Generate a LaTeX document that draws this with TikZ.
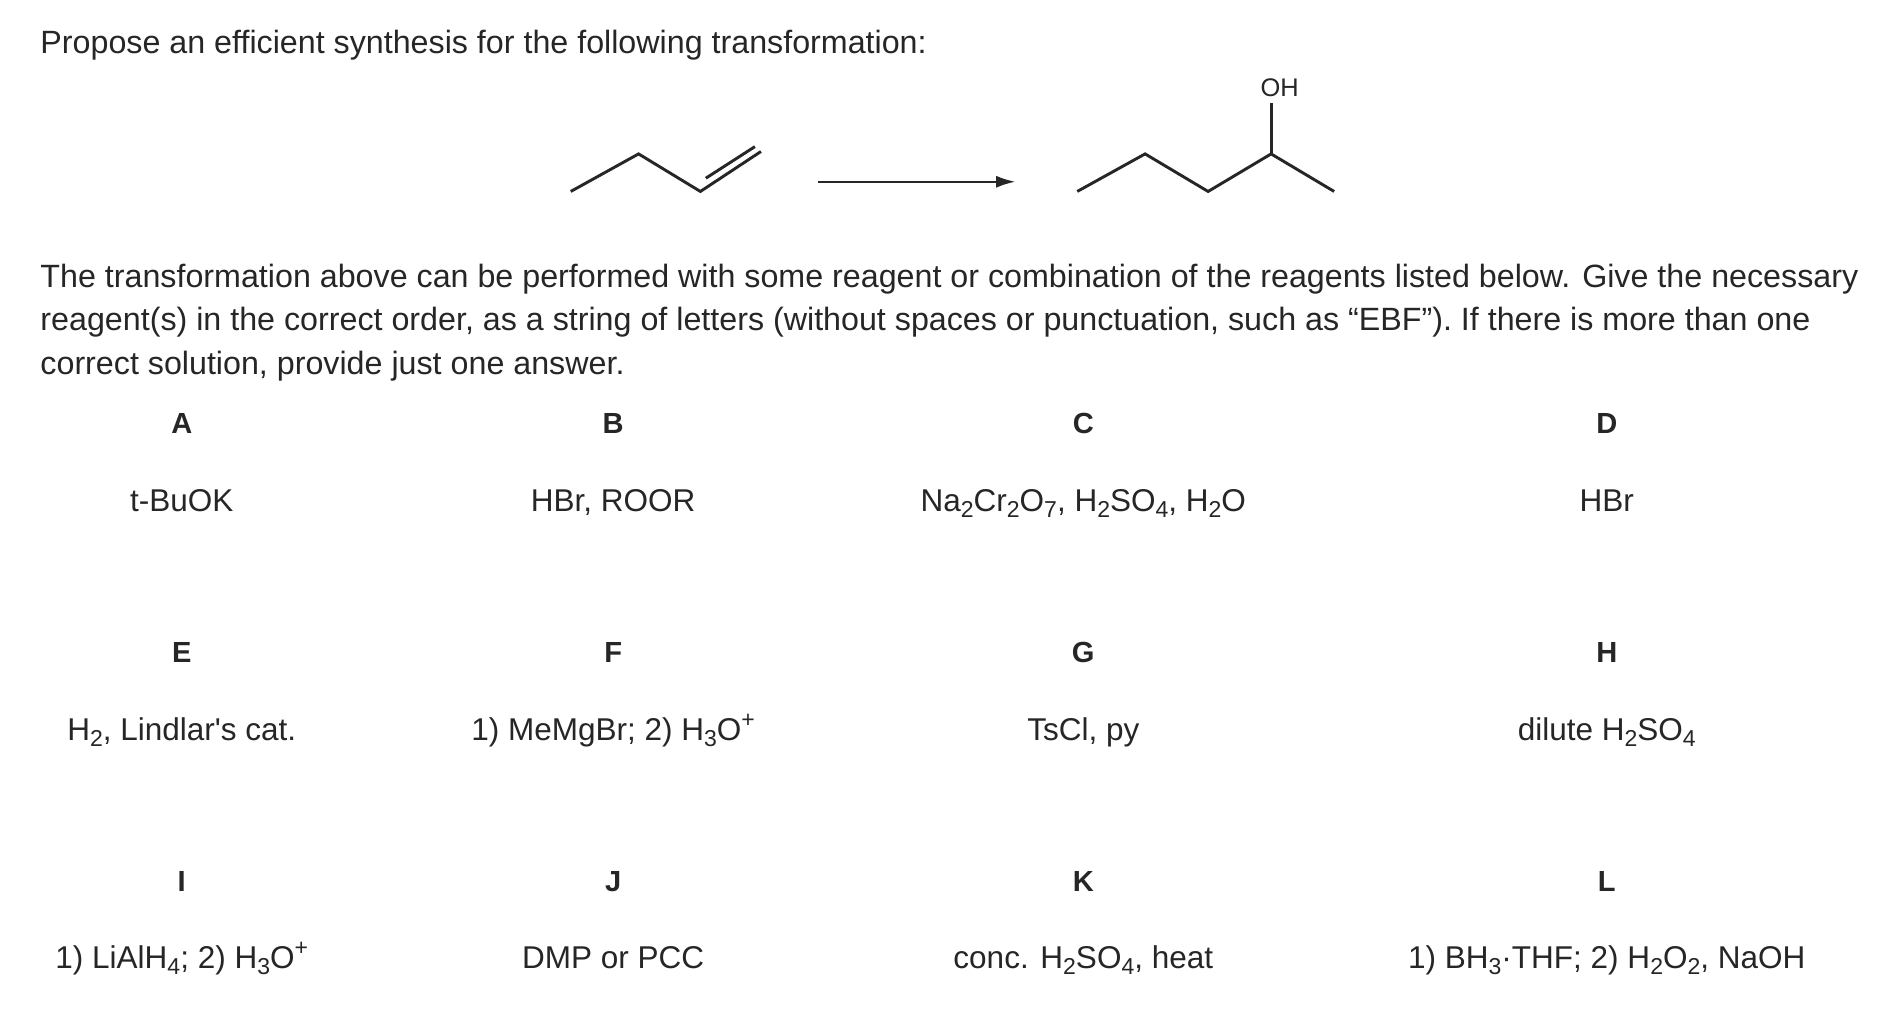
\documentclass[tikz,border=0pt]{standalone}
\usepackage{fontspec}
\setmainfont{Liberation Sans}
\newfontfamily\rawf{Liberation Sans}[Ligatures=ResetAll]
\usetikzlibrary{calc,arrows.meta}
\newcommand\sbs[1]{\raisebox{-0.35ex}{\fontsize{9.5}{9.5}\selectfont #1}}
\newcommand\sps[1]{\raisebox{0.75ex}{\fontsize{9.5}{9.5}\selectfont #1}}
\begin{document}
\begin{tikzpicture}[x=0.5pt,y=-0.5pt,
  txt/.style={anchor=base west,inner sep=0,font=\fontsize{13.3}{18}\selectfont,text=black!85},
  lett/.style={anchor=base,inner sep=0,font=\fontsize{12}{14}\selectfont\bfseries,text=black!85},
  reag/.style={anchor=base,inner sep=0,font=\fontsize{13}{14}\selectfont,text=black!85},
  bond/.style={line width=1.2pt,black!85}]
\useasboundingbox[fill=white] (0,0) rectangle (1568,837);
\node[txt] (title) at (33,44) {Propose an efficient synthesis for the following transformation:};
% reactant
\coordinate (a1) at (471,158); \coordinate (a2) at (527,127); \coordinate (a3) at (578,158); \coordinate (a4) at (628,125);
\draw[bond] (a1)--(a2)--(a3)--(a4);
\draw[bond] ($(a3)!0.15!(a4)+(-3,-6)$) -- ($(a3)!1!(a4)+(-5,-4)$);
% arrow
\coordinate (s) at (675,150); \coordinate (t) at (838,150);
\draw[line width=0.9pt,black!85,-{Latex[length=8pt,width=5pt]}] (s)--(t);
% product
\coordinate (b1) at (889,158); \coordinate (b2) at (945,127); \coordinate (b3) at (997,158); \coordinate (b4) at (1049,127); \coordinate (b5) at (1101,158); \coordinate (b6) at (1049,85);
\draw[bond] (b1)--(b2)--(b3)--(b4)--(b5); \draw[bond] (b4)--(b6);
\node[anchor=south,inner sep=0,font=\fontsize{10.5}{12}\selectfont,text=black!85] (oh) at (1056,80) {OH};
% paragraph
\node[txt] (p1) at (33,237) {The transformation above can be performed with some reagent or combination of the reagents listed below. Give the necessary};
\node[txt] (p2) at (33,273) {reagent(s) in the correct order, as a string of letters (without spaces or punctuation, such as “EBF”). If there is more than one};
\node[txt] (p3) at (33,309) {correct solution, provide just one answer.};
% grid
\node[lett] (lA) at (150,358) {A}; \node[lett] (lB) at (506,358) {B}; \node[lett] (lC) at (894,358) {C}; \node[lett] (lD) at (1326,358) {D};
\node[reag] (rA) at (150,422) {t-BuOK}; \node[reag] (rB) at (506,422) {HBr, ROOR};
\node[reag] (rC) at (894,422) {Na\sbs{2}Cr\sbs{2}O\sbs{7}, H\sbs{2}SO\sbs{4}, H\sbs{2}O}; \node[reag] (rD) at (1326,422) {HBr};
\node[lett] (lE) at (150,547) {E}; \node[lett] (lF) at (506,547) {F}; \node[lett] (lG) at (894,547) {G}; \node[lett] (lH) at (1326,547) {H};
\node[reag] (rE) at (150,611) {H\sbs{2}, Lindlar{\rawf '}s cat.}; \node[reag] (rF) at (506,611) {1) MeMgBr; 2) H\sbs{3}O\sps{+}};
\node[reag] (rG) at (894,611) {TsCl, py}; \node[reag] (rH) at (1326,611) {dilute H\sbs{2}SO\sbs{4}};
\node[lett] (lI) at (150,736) {I}; \node[lett] (lJ) at (506,736) {J}; \node[lett] (lK) at (894,736) {K}; \node[lett] (lL) at (1326,736) {L};
\node[reag] (rI) at (150,799) {1) LiAlH\sbs{4}; 2) H\sbs{3}O\sps{+}}; \node[reag] (rJ) at (506,799) {DMP or PCC};
\node[reag] (rK) at (894,799) {conc. H\sbs{2}SO\sbs{4}, heat}; \node[reag] (rL) at (1326,799) {1) BH\sbs{3}·THF; 2) H\sbs{2}O\sbs{2}, NaOH};
\end{tikzpicture}
\end{document}
